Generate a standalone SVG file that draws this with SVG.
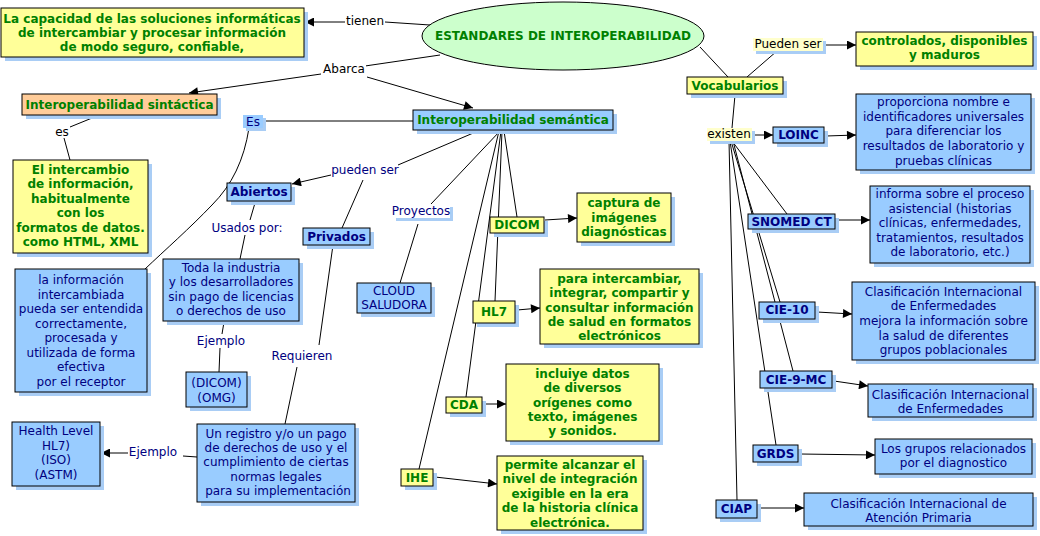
<svg xmlns="http://www.w3.org/2000/svg" width="1040" height="536" viewBox="0 0 1040 536">
<defs>
<style>
.y{fill:#ffff99;stroke:#000;stroke-width:1}
.b{fill:#99ccff;stroke:#000;stroke-width:1}
.o{fill:#ffcc99;stroke:#000;stroke-width:1}
.sh{fill:#a9cdf5}
.t{font-family:"DejaVu Sans",Verdana,sans-serif;font-size:12px;text-anchor:middle}
.g{font-weight:bold;fill:#008000}
.nb{font-weight:bold;fill:#000080}
.n{fill:#000080}
.k{fill:#000}
.c line,.c path{stroke:#000;stroke-width:1;fill:none}
.a{marker-end:url(#ah)}
</style>
<marker id="ah" viewBox="0 0 10 10" refX="10" refY="5" markerWidth="10" markerHeight="9" markerUnits="userSpaceOnUse" orient="auto"><path d="M0,0 L10,5 L0,10 z" fill="#000"/></marker>
</defs>
<rect width="1040" height="536" fill="#fff"/>

<g id="connectors" class="c">
<line x1="430" y1="25" x2="385" y2="22"/>
<line class="a" x1="345" y1="22" x2="305" y2="22"/>
<line x1="440" y1="55" x2="365" y2="66"/>
<line class="a" x1="321" y1="74" x2="189" y2="93"/>
<line class="a" x1="367" y1="77" x2="473" y2="108"/>
<line x1="97" y1="116" x2="70" y2="127"/>
<line x1="64" y1="138" x2="70" y2="160"/>
<line x1="263" y1="121" x2="413" y2="121"/>
<path d="M249,128 C244,160 232,185 212,205 C190,228 165,250 145,269"/>
<line x1="478" y1="131" x2="398" y2="165"/>
<line class="a" x1="331" y1="175" x2="292" y2="184"/>
<line x1="363" y1="180" x2="342" y2="228"/>
<line x1="255" y1="203" x2="250" y2="220"/>
<line x1="245" y1="235" x2="240" y2="259"/>
<line x1="224" y1="322" x2="222" y2="334"/>
<line x1="220" y1="348" x2="219" y2="372"/>
<line x1="333" y1="245" x2="319" y2="345"/>
<line x1="297" y1="367" x2="285" y2="424"/>
<line x1="197" y1="457" x2="183" y2="456"/>
<line class="a" x1="128" y1="453" x2="101" y2="453"/>
<line x1="500" y1="131" x2="431" y2="204"/>
<line x1="418" y1="224" x2="400" y2="283"/>
<line x1="504" y1="131" x2="517" y2="217"/>
<line x1="502" y1="131" x2="495" y2="301"/>
<line x1="501" y1="131" x2="466" y2="397"/>
<line x1="499" y1="131" x2="419" y2="469"/>
<line class="a" x1="545" y1="220" x2="577" y2="218"/>
<line class="a" x1="517" y1="310" x2="540" y2="308"/>
<line class="a" x1="484" y1="404" x2="506" y2="404"/>
<line class="a" x1="435" y1="477" x2="497" y2="484"/>
<line x1="700" y1="47" x2="728" y2="77"/>
<line x1="747" y1="77" x2="777" y2="51"/>
<line class="a" x1="825" y1="45" x2="856" y2="45"/>
<line x1="735" y1="95" x2="732" y2="128"/>
<line class="a" x1="753" y1="135" x2="773" y2="135"/>
<line class="a" x1="826" y1="136" x2="856" y2="135"/>
<line x1="732" y1="141" x2="787" y2="214"/>
<line x1="731" y1="141" x2="780" y2="302"/>
<line x1="733" y1="141" x2="793" y2="371"/>
<line x1="730" y1="141" x2="776" y2="445"/>
<line x1="729" y1="141" x2="737" y2="500"/>
<line class="a" x1="837" y1="220" x2="870" y2="220"/>
<line class="a" x1="817" y1="312" x2="852" y2="314"/>
<line class="a" x1="834" y1="381" x2="868" y2="386"/>
<line class="a" x1="800" y1="454" x2="875" y2="455"/>
<line class="a" x1="759" y1="508" x2="804" y2="508"/>
</g>

<g id="lbl-tienen"><rect x="345" y="14" width="40" height="14" fill="#fff"/><text class="t k" x="365" y="25">tienen</text></g>
<g id="lbl-abarca"><rect x="324" y="62" width="42" height="14" fill="#fff"/><text class="t k" x="344" y="73">Abarca</text></g>
<g id="lbl-es"><text class="t k" x="62" y="136">es</text></g>
<g id="lbl-Es"><rect class="sh" x="246" y="118" width="20" height="13"/><rect x="243" y="115" width="20" height="13" fill="#99ccff"/><text class="t n" x="253" y="126">Es</text></g>
<g id="lbl-pueden"><text class="t n" x="365" y="174">pueden ser</text></g>
<g id="lbl-usados"><text class="t n" x="247" y="232">Usados por:</text></g>
<g id="lbl-ejemplo1"><text class="t n" x="221" y="345">Ejemplo</text></g>
<g id="lbl-requieren"><text class="t n" x="302" y="360">Requieren</text></g>
<g id="lbl-ejemplo2"><text class="t n" x="153" y="456">Ejemplo</text></g>
<g id="lbl-proyectos"><rect class="sh" x="396" y="207" width="57" height="14"/><rect x="393" y="204" width="57" height="14" fill="#fff"/><text class="t n" x="421" y="215">Proyectos</text></g>
<g id="lbl-Pueden"><rect class="sh" x="756" y="41" width="70" height="13"/><rect x="753" y="38" width="70" height="13" fill="#ffffcc"/><text class="t k" x="788" y="48">Pueden ser</text></g>
<g id="lbl-existen"><rect class="sh" x="710" y="131" width="45" height="13"/><rect x="707" y="128" width="45" height="13" fill="#ffffcc"/><text class="t k" x="729" y="138">existen</text></g>

<g id="n-estandares"><ellipse cx="563" cy="36" rx="141" ry="34" fill="#ccffcc" stroke="#000"/><text class="t g" x="563" y="40">ESTANDARES DE INTEROPERABILIDAD</text></g>

<g id="n-capacidad"><rect class="sh" x="5" y="12" width="303" height="49"/><rect class="y" x="1" y="8" width="303" height="49"/><text class="t g"><tspan x="152" y="23">La capacidad de las soluciones informáticas</tspan><tspan x="152" y="37">de intercambiar y procesar información</tspan><tspan x="152" y="51">de modo seguro, confiable,</tspan></text></g>

<g id="n-sintactica"><rect class="sh" x="26" y="98" width="195" height="21"/><rect class="o" x="22" y="94" width="195" height="21"/><text class="t g" x="119.5" y="109">Interoperabilidad sintáctica</text></g>

<g id="n-intercambio"><rect class="sh" x="17" y="164" width="135" height="93"/><rect class="y" x="13" y="160" width="135" height="93"/><text class="t g"><tspan x="80.5" y="174">El intercambio</tspan><tspan x="80.5" y="188">de información,</tspan><tspan x="80.5" y="203">habitualmente</tspan><tspan x="80.5" y="217">con los</tspan><tspan x="80.5" y="232">formatos de datos.</tspan><tspan x="80.5" y="246">como HTML, XML</tspan></text></g>

<g id="n-semantica"><rect class="sh" x="417" y="114" width="200" height="20"/><rect class="b" x="413" y="110" width="200" height="20"/><text class="t g" x="513" y="124">Interoperabilidad semántica</text></g>

<g id="n-lainfo"><rect class="sh" x="19" y="273" width="132" height="123"/><rect class="b" x="15" y="269" width="132" height="123"/><text class="t n"><tspan x="81" y="284">la información</tspan><tspan x="81" y="298.5">intercambiada</tspan><tspan x="81" y="313">pueda ser entendida</tspan><tspan x="81" y="327.5">correctamente,</tspan><tspan x="81" y="342">procesada y</tspan><tspan x="81" y="356.5">utilizada de forma</tspan><tspan x="81" y="371">efectiva</tspan><tspan x="81" y="385.5">por el receptor</tspan></text></g>

<g id="n-abiertos"><rect class="sh" x="231" y="187" width="64" height="18"/><rect class="b" x="227" y="183" width="64" height="18"/><text class="t nb" x="259" y="196">Abiertos</text></g>

<g id="n-toda"><rect class="sh" x="167" y="263" width="136" height="62"/><rect class="b" x="163" y="259" width="136" height="62"/><text class="t n"><tspan x="231" y="271.5">Toda la industria</tspan><tspan x="231" y="286">y los desarrolladores</tspan><tspan x="231" y="300.5">sin pago de licencias</tspan><tspan x="231" y="315">o derechos de uso</tspan></text></g>

<g id="n-dicomomg"><rect class="sh" x="190" y="376" width="61" height="35"/><rect class="b" x="186" y="372" width="61" height="35"/><text class="t n"><tspan x="216.5" y="387">(DICOM)</tspan><tspan x="216.5" y="401.5">(OMG)</tspan></text></g>

<g id="n-privados"><rect class="sh" x="307" y="232" width="67" height="17"/><rect class="b" x="303" y="228" width="67" height="17"/><text class="t nb" x="336.5" y="240.5">Privados</text></g>

<g id="n-registro"><rect class="sh" x="201" y="428" width="158" height="78"/><rect class="b" x="197" y="424" width="158" height="78"/><text class="t n"><tspan x="276" y="437.5">Un registro y/o un pago</tspan><tspan x="276" y="452">de derechos de uso y el</tspan><tspan x="276" y="466">cumplimiento de ciertas</tspan><tspan x="276" y="481">normas legales</tspan><tspan x="278" y="495">para su implementación</tspan></text></g>

<g id="n-health"><rect class="sh" x="16" y="426" width="88" height="64"/><rect class="b" x="12" y="422" width="88" height="64"/><text class="t n"><tspan x="56" y="435">Health Level</tspan><tspan x="56" y="450">HL7)</tspan><tspan x="56" y="464">(ISO)</tspan><tspan x="56" y="479">(ASTM)</tspan></text></g>

<g id="n-cloud"><rect class="sh" x="361" y="287" width="74" height="30"/><rect class="b" x="357" y="283" width="74" height="30"/><text class="t n"><tspan x="394" y="295">CLOUD</tspan><tspan x="394" y="309">SALUDORA</tspan></text></g>

<g id="n-dicom"><rect class="sh" x="494" y="221" width="54" height="16"/><rect class="y" x="490" y="217" width="54" height="16"/><text class="t g" x="517" y="229">DICOM</text></g>

<g id="n-dicomdesc"><rect class="sh" x="581" y="197" width="94" height="49"/><rect class="y" x="577" y="193" width="94" height="49"/><text class="t g"><tspan x="624" y="207">captura de</tspan><tspan x="624" y="221.5">imágenes</tspan><tspan x="624" y="236">diagnósticas</tspan></text></g>

<g id="n-hl7"><rect class="sh" x="477" y="305" width="42" height="22"/><rect class="y" x="473" y="301" width="42" height="22"/><text class="t g" x="494" y="316">HL7</text></g>

<g id="n-hl7desc"><rect class="sh" x="544" y="273" width="159" height="75"/><rect class="y" x="540" y="269" width="159" height="75"/><text class="t g"><tspan x="619.5" y="282.5">para intercambiar,</tspan><tspan x="619.5" y="297">integrar, compartir y</tspan><tspan x="619.5" y="311.5">consultar información</tspan><tspan x="619.5" y="326">de salud en formatos</tspan><tspan x="619.5" y="340">electrónicos</tspan></text></g>

<g id="n-cda"><rect class="sh" x="450" y="401" width="36" height="16"/><rect class="y" x="446" y="397" width="36" height="16"/><text class="t g" x="464" y="409">CDA</text></g>

<g id="n-cdadesc"><rect class="sh" x="510" y="368" width="153" height="77"/><rect class="y" x="506" y="364" width="153" height="77"/><text class="t g"><tspan x="582.5" y="377.5">incluiye datos</tspan><tspan x="582.5" y="391.5">de diversos</tspan><tspan x="582.5" y="406.5">orígenes como</tspan><tspan x="582.5" y="421">texto, imágenes</tspan><tspan x="582.5" y="435">y sonidos.</tspan></text></g>

<g id="n-ihe"><rect class="sh" x="405" y="473" width="32" height="17"/><rect class="y" x="401" y="469" width="32" height="17"/><text class="t g" x="417" y="482">IHE</text></g>

<g id="n-ihedesc"><rect class="sh" x="501" y="460" width="146" height="74"/><rect class="y" x="497" y="456" width="146" height="74"/><text class="t g"><tspan x="570" y="468.5">permite alcanzar el</tspan><tspan x="570" y="482.5">nivel de integración</tspan><tspan x="570" y="497.5">exigible en la era</tspan><tspan x="570" y="511.5">de la historia clínica</tspan><tspan x="570" y="526.5">electrónica.</tspan></text></g>

<g id="n-vocab"><rect class="sh" x="691" y="81" width="96" height="17"/><rect class="y" x="687" y="77" width="96" height="17"/><text class="t g" x="735" y="90">Vocabularios</text></g>

<g id="n-controlados"><rect class="sh" x="860" y="36" width="177" height="34"/><rect class="y" x="856" y="32" width="177" height="34"/><text class="t g"><tspan x="944.5" y="45">controlados, disponibles</tspan><tspan x="944.5" y="59">y maduros</tspan></text></g>

<g id="n-loinc"><rect class="sh" x="777" y="131" width="51" height="16"/><rect class="b" x="773" y="127" width="51" height="16"/><text class="t nb" x="798.5" y="139">LOINC</text></g>

<g id="n-loincdesc"><rect class="sh" x="860" y="98" width="175" height="76"/><rect class="b" x="856" y="94" width="175" height="76"/><text class="t n"><tspan x="943.5" y="106">proporciona nombre e</tspan><tspan x="943.5" y="120.5">identificadores universales</tspan><tspan x="943.5" y="135">para diferenciar los</tspan><tspan x="943.5" y="150">resultados de laboratorio y</tspan><tspan x="943.5" y="164.5">pruebas clínicas</tspan></text></g>

<g id="n-snomed"><rect class="sh" x="752" y="218" width="87" height="15"/><rect class="b" x="748" y="214" width="87" height="15"/><text class="t nb" x="791.5" y="226">SNOMED CT</text></g>

<g id="n-snomeddesc"><rect class="sh" x="874" y="190" width="160" height="77"/><rect class="b" x="870" y="186" width="160" height="77"/><text class="t n"><tspan x="950" y="198">informa sobre el proceso</tspan><tspan x="950" y="212.5">asistencial (historias</tspan><tspan x="950" y="227">clínicas, enfermedades,</tspan><tspan x="950" y="241.5">tratamientos, resultados</tspan><tspan x="950" y="256">de laboratorio, etc.)</tspan></text></g>

<g id="n-cie10"><rect class="sh" x="763" y="306" width="56" height="17"/><rect class="b" x="759" y="302" width="56" height="17"/><text class="t nb" x="787" y="314">CIE-10</text></g>

<g id="n-cie10desc"><rect class="sh" x="856" y="286" width="183" height="78"/><rect class="b" x="852" y="282" width="183" height="78"/><text class="t n"><tspan x="943.5" y="295.5">Clasificación Internacional</tspan><tspan x="943.5" y="310">de Enfermedades</tspan><tspan x="943.5" y="325">mejora la información sobre</tspan><tspan x="943.5" y="339.5">la salud de diferentes</tspan><tspan x="943.5" y="354">grupos poblacionales</tspan></text></g>

<g id="n-cie9"><rect class="sh" x="764" y="375" width="72" height="17"/><rect class="b" x="760" y="371" width="72" height="17"/><text class="t nb" x="796" y="383.5">CIE-9-MC</text></g>

<g id="n-cie9desc"><rect class="sh" x="872" y="388" width="165" height="33"/><rect class="b" x="868" y="384" width="165" height="33"/><text class="t n"><tspan x="950.5" y="399">Clasificación Internacional</tspan><tspan x="950.5" y="413">de Enfermedades</tspan></text></g>

<g id="n-grds"><rect class="sh" x="757" y="449" width="45" height="17"/><rect class="b" x="753" y="445" width="45" height="17"/><text class="t nb" x="775.5" y="458">GRDS</text></g>

<g id="n-grdsdesc"><rect class="sh" x="879" y="443" width="157" height="35"/><rect class="b" x="875" y="439" width="157" height="35"/><text class="t n"><tspan x="953.5" y="453">Los grupos relacionados</tspan><tspan x="953.5" y="467">por el diagnostico</tspan></text></g>

<g id="n-ciap"><rect class="sh" x="720" y="504" width="41" height="18"/><rect class="b" x="716" y="500" width="41" height="18"/><text class="t nb" x="736.5" y="513">CIAP</text></g>

<g id="n-ciapdesc"><rect class="sh" x="808" y="497" width="229" height="33"/><rect class="b" x="804" y="493" width="229" height="33"/><text class="t n"><tspan x="918.5" y="508">Clasificación Internacional de</tspan><tspan x="918.5" y="521.5">Atención Primaria</tspan></text></g>
</svg>
